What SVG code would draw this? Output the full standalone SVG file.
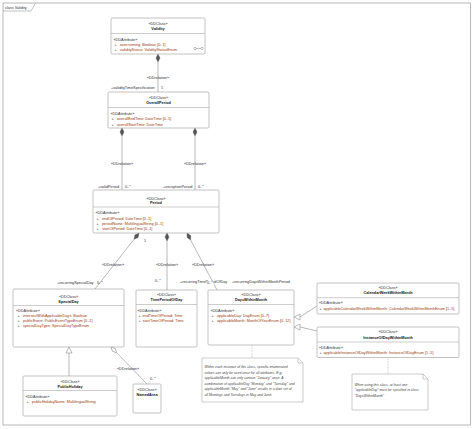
<svg xmlns="http://www.w3.org/2000/svg" width="474" height="429" viewBox="0 0 474 429">
<style>
text{font-family:"Liberation Sans",Arial,sans-serif;font-size:3.8px;fill:#333}
.c{text-anchor:middle}
.b{font-weight:bold;fill:#111}
.a{fill:#9a3a0a}
.n{font-style:italic;font-size:3.45px;fill:#444}
.box{fill:#fff;stroke:#9a9a9a;stroke-width:0.6}
.sep{stroke:#9a9a9a;stroke-width:0.5}
.ln{stroke:#8a8a8a;stroke-width:0.6;fill:none}
.dot{stroke:#9a9a9a;stroke-width:0.5;stroke-dasharray:0.8 0.8;fill:none}
.fd{fill:#555;stroke:#555;stroke-width:0.4}
.hol{fill:#fff;stroke:#777;stroke-width:0.5}
</style>
<rect x="0" y="0" width="474" height="429" fill="#fff"/>
<g id="frame">
<rect x="3" y="3" width="467.5" height="422" fill="none" stroke="#999" stroke-width="0.7"/>
<path d="M3,11 H31 L35.5,3" fill="none" stroke="#999" stroke-width="0.6"/>
<text x="5" y="8.6">class Validity</text>
</g>
<g id="connectors">
<polygon class="fd" points="158,54 160,58 158,62 156,58"/>
<line class="ln" x1="158" y1="62" x2="158" y2="92"/>
<text class="c" x="158" y="79.3">«DDrelation»</text>
<text x="111" y="89.3">+validityTimeSpecification</text>
<text x="161" y="89.3">1</text>
<polygon class="fd" points="122,128 124,132 122,136 120,132"/>
<line class="ln" x1="122" y1="136" x2="122" y2="190"/>
<polygon class="fd" points="195,128 197,132 195,136 193,132"/>
<line class="ln" x1="195" y1="136" x2="195" y2="190"/>
<text class="c" x="122" y="165.3">«DDrelation»</text>
<text class="c" x="195" y="165.3">«DDrelation»</text>
<text x="98" y="188.3">+validPeriod</text>
<text x="125" y="188.3">0..*</text>
<text x="163" y="188.3">+exceptionPeriod</text>
<text x="198" y="188.3">0..*</text>
<g transform="translate(139,233) rotate(128.2)"><polygon class="fd" points="0,0 4,-2 8,0 4,2"/></g>
<line class="ln" x1="134" y1="239.3" x2="95" y2="289"/>
<text x="144" y="241.5">1</text>
<polygon class="fd" points="167,233 169,237 167,241 165,237"/>
<line class="ln" x1="167" y1="241" x2="167" y2="290"/>
<g transform="translate(187,233) rotate(62.2)"><polygon class="fd" points="0,0 4,-2 8,0 4,2"/></g>
<line class="ln" x1="190.7" y1="240.1" x2="217" y2="290"/>
<text class="c" x="113" y="266.3">«DDrelation»</text>
<text class="c" x="167" y="266.3">«DDrelation»</text>
<text class="c" x="203" y="266.3">«DDrelation»</text>
<text x="57" y="284.3">+recurringSpecialDay</text>
<text x="97" y="284.3">0..*</text>
<text x="155" y="282.3">0..*</text>
<text x="180" y="283.3">+recurringTimePeriodOfDay</text>
<rect x="206.5" y="281" width="7" height="4" fill="#fff"/>
<text x="207" y="284.3">0..*</text>
<text x="232" y="283.3">+recurringDaysWithinMonthPeriod</text>
<polygon class="hol" points="69,347 72,353 66,353"/>
<line class="ln" x1="69" y1="353" x2="69" y2="376"/>
<g transform="translate(111,347) rotate(45.8)"><polygon class="hol" points="0,0 4,-2 8,0 4,2"/></g>
<line class="ln" x1="116.6" y1="352.7" x2="147" y2="384"/>
<text class="c" x="128" y="370.3">«DDrelation»</text>
<text x="150" y="380.3">0..*</text>
<polygon class="hol" points="294,317 300,314 300,320"/>
<line class="ln" x1="300" y1="317" x2="317" y2="306"/>
<polygon class="hol" points="294,327 300,324 300,330"/>
<line class="ln" x1="300" y1="327" x2="317" y2="331"/>
<line class="dot" x1="252" y1="345" x2="252" y2="358"/>
<line class="dot" x1="388" y1="357.5" x2="388" y2="374"/>
</g>
<g id="Validity">
<rect class="box" x="111" y="18" width="94" height="36" rx="1.2"/>
<line class="sep" x1="111" y1="33.5" x2="205" y2="33.5"/>
<text class="c" x="158" y="24.6">«DDClass»</text>
<text class="c b" x="158" y="29.6">Validity</text>
<text x="113.5" y="40.6">«DDAttribute»</text>
<text x="114.5" y="45.6">+</text><text class="a" x="120" y="45.6">overrunning: Boolean [0..1]</text>
<text x="114.5" y="50.6">+</text><text class="a" x="120" y="50.6">validityStatus: ValidityStatusEnum</text>
<circle cx="195" cy="48.5" r="1.2" fill="none" stroke="#666" stroke-width="0.4"/>
<circle cx="202" cy="48.5" r="1.2" fill="none" stroke="#666" stroke-width="0.4"/>
<line x1="196.2" y1="48.5" x2="200.8" y2="48.5" stroke="#666" stroke-width="0.4"/>
</g>
<g id="OverallPeriod">
<rect class="box" x="108" y="92" width="101" height="36" rx="1.2"/>
<line class="sep" x1="108" y1="107.5" x2="209" y2="107.5"/>
<text class="c" x="158.5" y="99.3">«DDClass»</text>
<text class="c b" x="158.5" y="104.3">OverallPeriod</text>
<text x="110.5" y="115.3">«DDAttribute»</text>
<text x="111.5" y="120.3">+</text><text class="a" x="117" y="120.3">overallEndTime: DateTime [0..1]</text>
<text x="111.5" y="125.5">+</text><text class="a" x="117" y="125.5">overallStartTime: DateTime</text>
</g>
<g id="Period">
<rect class="box" x="93" y="190" width="126" height="43" rx="1.2"/>
<line class="sep" x1="93" y1="207" x2="219" y2="207"/>
<text class="c" x="156" y="199.5">«DDClass»</text>
<text class="c b" x="156" y="204">Period</text>
<text x="95.5" y="214">«DDAttribute»</text>
<text x="96.5" y="219.5">+</text><text class="a" x="102" y="219.5">endOfPeriod: DateTime [0..1]</text>
<text x="96.5" y="224.6">+</text><text class="a" x="102" y="224.6">periodName: MultilingualString [0..1]</text>
<text x="96.5" y="229.6">+</text><text class="a" x="102" y="229.6">startOfPeriod: DateTime [0..1]</text>
</g>
<g id="SpecialDay">
<rect class="box" x="13" y="289" width="111" height="58" rx="1.2"/>
<line class="sep" x1="13" y1="305.5" x2="124" y2="305.5"/>
<text class="c" x="68.5" y="297.8">«DDClass»</text>
<text class="c b" x="68.5" y="302.5">SpecialDay</text>
<text x="16" y="311.8">«DDAttribute»</text>
<text x="17.5" y="316.8">+</text><text class="a" x="23" y="316.8">intersectWithApplicableDays: Boolean</text>
<text x="17.5" y="321.8">+</text><text class="a" x="23" y="321.8">publicEvent: PublicEventTypeEnum [0..1]</text>
<text x="17.5" y="326.8">+</text><text class="a" x="23" y="326.8">specialDayType: SpecialDayTypeEnum</text>
</g>
<g id="TimePeriodOfDay">
<rect class="box" x="136" y="290" width="61" height="57" rx="1.2"/>
<line class="sep" x1="136" y1="304.5" x2="197" y2="304.5"/>
<text class="c" x="166.5" y="296.3">«DDClass»</text>
<text class="c b" x="166.5" y="300.8">TimePeriodOfDay</text>
<text x="137.5" y="312">«DDAttribute»</text>
<text x="138.5" y="317.2">+</text><text class="a" x="142.5" y="317.2">endTimeOfPeriod: Time</text>
<text x="138.5" y="322.2">+</text><text class="a" x="142.5" y="322.2">startTimeOfPeriod: Time</text>
</g>
<g id="DaysWithinMonth">
<rect class="box" x="208" y="290" width="86" height="55" rx="1.2"/>
<line class="sep" x1="208" y1="304.5" x2="294" y2="304.5"/>
<text class="c" x="251" y="296.3">«DDClass»</text>
<text class="c b" x="251" y="300.8">DaysWithinMonth</text>
<text x="210.5" y="312">«DDAttribute»</text>
<text x="211.5" y="317.2">+</text><text class="a" x="217" y="317.2">applicableDay: DayEnum [0..7]</text>
<text x="211.5" y="322.2">+</text><text class="a" x="217" y="322.2">applicableMonth: MonthOfYearEnum [0..12]</text>
</g>
<g id="CalendarWeekWithinMonth">
<rect class="box" x="317" y="283" width="142" height="31" rx="1.2"/>
<line class="sep" x1="317" y1="297.7" x2="459" y2="297.7"/>
<text class="c" x="388" y="289">«DDClass»</text>
<text class="c b" x="388" y="293.5">CalendarWeekWithinMonth</text>
<text x="319" y="303.6">«DDAttribute»</text>
<text x="319.5" y="309.6">+</text><text class="a" x="323.5" y="309.6">applicableCalendarWeekWithinMonth: CalendarWeekWithinMonthEnum [1..5]</text>
</g>
<g id="InstanceOfDayWithinMonth">
<rect class="box" x="317" y="327" width="142" height="30.5" rx="1.2"/>
<line class="sep" x1="317" y1="342" x2="459" y2="342"/>
<text class="c" x="388" y="333.3">«DDClass»</text>
<text class="c b" x="388" y="338.8">InstanceOfDayWithinMonth</text>
<text x="319" y="348.8">«DDAttribute»</text>
<text x="319.5" y="354.3">+</text><text class="a" x="323.5" y="354.3">applicableInstanceOfDayWithinMonth: InstanceOfDayEnum [1..5]</text>
</g>
<g id="PublicHoliday">
<rect class="box" x="23" y="376" width="94" height="40" rx="1.2"/>
<line class="sep" x1="23" y1="390.5" x2="117" y2="390.5"/>
<text class="c" x="70" y="383.3">«DDClass»</text>
<text class="c b" x="70" y="388.3">PublicHoliday</text>
<text x="25.5" y="398.3">«DDAttribute»</text>
<text x="26.5" y="403.3">+</text><text class="a" x="32" y="403.3">publicHolidayName: MultilingualString</text>
</g>
<g id="NamedArea">
<rect class="box" x="133" y="384" width="28" height="29" rx="1.2"/>
<text class="c" x="147" y="391.3">«DDClass»</text>
<text class="c b" x="147" y="396.3">NamedArea</text>
</g>
<g id="note1">
<path d="M202,358 H298 L303,363 V402 H202 Z" fill="#fff" stroke="#9a9a9a" stroke-width="0.5"/>
<path d="M298,358 V363 H303" fill="none" stroke="#9a9a9a" stroke-width="0.5"/>
<text class="n" x="204.5" y="368.2">Within each instance of this class, specific enumerated</text>
<text class="n" x="204.5" y="373.7">values can only be used once for all attributes.  E.g.</text>
<text class="n" x="204.5" y="379.2">applicableMonth can only contain "January" once.  A</text>
<text class="n" x="204.5" y="384.7">combination of applicableDay "Monday" and "Tuesday" and</text>
<text class="n" x="204.5" y="390.2">applicableMonth "May" and "June" results in a date set of</text>
<text class="n" x="204.5" y="395.7">all Mondays and Tuesdays in May and June.</text>
</g>
<g id="note2">
<path d="M352,374 H423 L428,379 V410 H352 Z" fill="#fff" stroke="#9a9a9a" stroke-width="0.5"/>
<path d="M423,374 V379 H428" fill="none" stroke="#9a9a9a" stroke-width="0.5"/>
<text class="n" x="354.5" y="385.5">When using this class, at least one</text>
<text class="n" x="354.5" y="391.2">"applicableDay" must be specified in class</text>
<text class="n" x="354.5" y="396.9">"DaysWithinMonth"</text>
</g>
</svg>
